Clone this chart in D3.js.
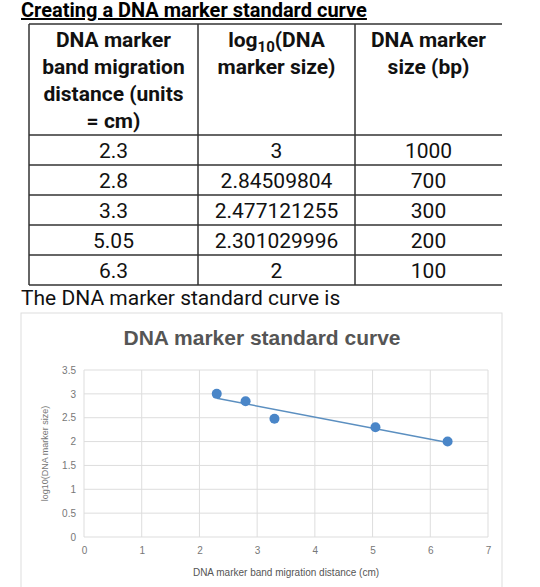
<!DOCTYPE html>
<html><head><meta charset="utf-8">
<script src="https://cdn.jsdelivr.net/npm/d3@7"></script>
<style>body{margin:0;background:#fff;font-family:Roboto,"Noto Sans",sans-serif;}</style>
</head><body>
<svg id="c" width="540" height="587"></svg>
<script>
var headers = [["DNA marker","band migration","distance (units","= cm)"],["log10(DNA","marker size)"],["DNA marker","size  (bp)"]];
var distText = ["2.3","2.8","3.3","5.05","6.3"];
var logText = ["3","2.84509804","2.477121255","2.301029996","2"];
var sizeText = ["1000","700","300","200","100"];
var distance = [2.3, 2.8, 3.3, 5.05, 6.3];
var logSize = [3, 2.84509804, 2.477121255, 2.301029996, 2];
var xTicks = [0,1,2,3,4,5,6,7];
var yTicks = [0,0.5,1,1.5,2,2.5,3,3.5];

var svg = d3.select("#c");

// heading + table
svg.append("text").attr("x",21).attr("y",17).attr("font-size",20).attr("font-weight","bold")
	.attr("text-decoration","underline").text("Creating a DNA marker standard curve");

var colX = [29,198,355,502];
var rowY = [24,135,165,195,225,255,285];
rowY.forEach(function(y){
	svg.append("line").attr("x1",29).attr("x2",502).attr("y1",y).attr("y2",y).attr("stroke","#333").attr("stroke-width",1.5);
});
colX.slice(0,3).forEach(function(x){
	svg.append("line").attr("x1",x).attr("x2",x).attr("y1",24).attr("y2",285).attr("stroke","#333").attr("stroke-width",1.5);
});
headers.forEach(function(lines,c){
	var cx=(colX[c]+colX[c+1])/2;
	lines.forEach(function(l,i){
		var t=svg.append("text").attr("x",cx).attr("y",47+i*27).attr("text-anchor","middle")
			.attr("font-size",21).attr("font-weight","bold").attr("fill","#111");
		if(l.indexOf("log10")==0){
			t.append("tspan").text("log");
			t.append("tspan").attr("font-size",15).attr("dy",5).text("10");
			t.append("tspan").attr("dy",-5).text(l.slice(5));
		} else t.text(l);
	});
});
[distText,logText,sizeText].forEach(function(col,c){
	var cx=(colX[c]+colX[c+1])/2;
	col.forEach(function(v,i){
		svg.append("text").attr("x",cx).attr("y",rowY[i+1]+23).attr("text-anchor","middle")
			.attr("font-size",21).attr("fill","#111").text(v);
	});
});
svg.append("text").attr("x",21).attr("y",305).attr("font-size",21).attr("fill","#111").text("The DNA marker standard curve is");

// chart
svg.append("rect").attr("x",21).attr("y",313).attr("width",481).attr("height",280).attr("fill","#fff").attr("stroke","#ddd");
svg.append("text").attr("x",262).attr("y",345).attr("text-anchor","middle").attr("font-size",21).attr("font-weight","bold")
	.attr("fill","#555").attr("font-family","Liberation Sans, Arial").text("DNA marker standard curve");

var x = d3.scaleLinear().domain([0,7]).range([84,488]);
var y = d3.scaleLinear().domain([0,3.5]).range([537,370]);

var g = svg.append("g");
g.selectAll(".gx").data(xTicks).enter().append("line").attr("x1",x).attr("x2",x).attr("y1",y(0)).attr("y2",y(3.5)).attr("stroke","#ddd");
g.selectAll(".gy").data(yTicks).enter().append("line").attr("y1",y).attr("y2",y).attr("x1",x(0)).attr("x2",x(7)).attr("stroke","#ddd");

var xa = svg.append("g").attr("transform","translate(0,"+y(0)+")")
	.call(d3.axisBottom(x).tickValues(xTicks).tickSize(0).tickPadding(10).tickFormat(d3.format("")));
var ya = svg.append("g").attr("transform","translate("+x(0)+",0)")
	.call(d3.axisLeft(y).tickValues(yTicks).tickSize(0).tickPadding(8).tickFormat(d3.format("")));
[xa,ya].forEach(function(a){
	a.select(".domain").remove();
	a.selectAll("text").attr("font-size",10).attr("fill","#777").attr("font-family","Liberation Sans, Arial");
});

svg.append("text").attr("x",x(3.5)).attr("y",576).attr("text-anchor","middle").attr("font-size",10).attr("fill","#555")
	.attr("font-family","Liberation Sans, Arial").text("DNA marker band migration distance (cm)");
svg.append("text").attr("transform","translate(48,"+y(1.75)+") rotate(-90)").attr("text-anchor","middle").attr("font-size",9)
	.attr("fill","#777").attr("font-family","Liberation Sans, Arial").text("log10(DNA marker size)");

// linear trendline (least squares)
var mx=d3.mean(distance), my=d3.mean(logSize);
var sxy=d3.sum(distance,function(d,i){return (d-mx)*(logSize[i]-my);});
var sxx=d3.sum(distance,function(d){return (d-mx)*(d-mx);});
var b=sxy/sxx, a0=my-b*mx;
var ends=[d3.min(distance),d3.max(distance)];
svg.append("path").datum(ends).attr("fill","none").attr("stroke","#5b8fc0").attr("stroke-width",1.5)
	.attr("d",d3.line().x(function(d){return x(d);}).y(function(d){return y(a0+b*d);}));

svg.selectAll(".pt").data(distance).enter().append("circle")
	.attr("cx",function(d){return x(d);}).attr("cy",function(d,i){return y(logSize[i]);})
	.attr("r",5).attr("fill","#4a86c8");
</script>
</body></html>
